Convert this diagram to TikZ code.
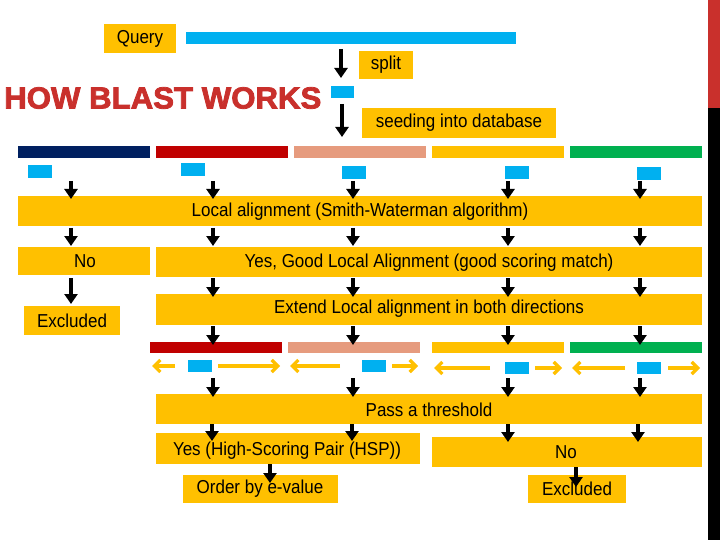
\documentclass[tikz,border=0pt]{standalone}
\usepackage{fontspec}
\setmainfont{Liberation Sans}
\newfontfamily\heavy[BoldFeatures={FakeBold=2.5}]{Liberation Sans}
\usetikzlibrary{arrows.meta}
\definecolor{org}{HTML}{FFC000}
\definecolor{cy}{HTML}{00B0F0}
\definecolor{nv}{HTML}{002060}
\definecolor{rd}{HTML}{C00000}
\definecolor{sl}{HTML}{E69B7E}
\definecolor{gr}{HTML}{00B050}
\definecolor{tred}{HTML}{C9302C}
\begin{document}
\begin{tikzpicture}[x=1pt,y=-1pt,
  arr/.style={line width=3.4pt,-{Triangle[width=13pt,length=10pt]}},
  yarr/.style={draw=org,line width=3.2pt,-{Straight Barb[width=12pt,length=6pt,line width=3.2pt]}},
  box/.style={fill=org},
  txt/.style={font=\fontsize{17}{19}\selectfont,inner sep=0pt,yscale=1.1}]
\useasboundingbox (0,0) rectangle (720,540);
\fill[white] (0,0) rectangle (720,540);
\fill[tred] (708,0) rectangle (720,108);
\fill[black] (708,108) rectangle (720,540);
% boxes
\fill[box] (104,24) rectangle (176,53); \node[txt] (q) at (140,39) {Query};
\fill[cy] (186,32) rectangle (516,44);
\fill[box] (359,51) rectangle (413,79); \node[txt] (sp) at (386,65) {split};
\node[font=\heavy\bfseries\fontsize{30}{32}\selectfont,text=tred,inner sep=0pt,anchor=west,xscale=1.04,yscale=1.02] (t) at (4,98) {HOW BLAST WORKS};
\fill[cy] (331,86) rectangle (354,98);
\fill[box] (362,108) rectangle (556,138); \node[txt] (sd) at (459,123) {seeding into database};
\fill[nv] (18,146) rectangle (150,158);
\fill[rd] (156,146) rectangle (288,158);
\fill[sl] (294,146) rectangle (426,158);
\fill[org] (432,146) rectangle (564,158);
\fill[gr] (570,146) rectangle (702,158);
\fill[cy] (28,165) rectangle (52,178);
\fill[cy] (181,163) rectangle (205,176);
\fill[cy] (342,166) rectangle (366,179);
\fill[cy] (505,166) rectangle (529,179);
\fill[cy] (637,167) rectangle (661,180);
\fill[box] (18,196) rectangle (702,226);
\node[txt] (la) at (360,212) {Local alignment (Smith-Waterman algorithm)};
\fill[box] (18,247) rectangle (150,275); \node[txt] (no1) at (85,261) {No};
\fill[box] (156,247) rectangle (702,277); \node[txt] (yes) at (429,263) {Yes, Good Local Alignment (good scoring match)};
\fill[box] (24,306) rectangle (120,335); \node[txt] (ex1) at (72,321) {Excluded};
\fill[box] (156,294) rectangle (702,325); \node[txt] (ext) at (429,309) {Extend Local alignment in both directions};
\fill[rd] (150,342) rectangle (282,353);
\fill[sl] (288,342) rectangle (420,353);
\fill[org] (432,342) rectangle (564,353);
\fill[gr] (570,342) rectangle (702,353);
\fill[cy] (188,360) rectangle (212,372);
\fill[cy] (362,360) rectangle (386,372);
\fill[cy] (505,362) rectangle (529,374);
\fill[cy] (637,362) rectangle (661,374);
\fill[box] (156,394) rectangle (702,424); \node[txt] (pt) at (429,410) {Pass a threshold};
\fill[box] (156,433) rectangle (420,464); \node[txt] (hsp) at (287,451) {Yes (High-Scoring Pair (HSP))};
\fill[box] (432,437) rectangle (702,467); \node[txt] (no2) at (566,452) {No};
\fill[box] (183,475) rectangle (338,503); \node[txt] (ev) at (260,489) {Order by e-value};
\fill[box] (528,475) rectangle (626,503); \node[txt] (ex2) at (577,489) {Excluded};
% arrows
\draw[arr] (341,49) -- (341,78);
\draw[arr] (342,104) -- (342,137);
\foreach \x in {71,213,353,508,640}{\draw[arr] (\x,181) -- (\x,199);}
\foreach \x in {71,213,353,508,640}{\draw[arr] (\x,228) -- (\x,246);}
\draw[arr] (71,278) -- (71,304);
\foreach \x in {213,353,508,640}{\draw[arr] (\x,278) -- (\x,297);}
\foreach \x in {213,353,508,640}{\draw[arr] (\x,326) -- (\x,345);}
\draw[yarr] (175,366) -- (152,366);
\draw[yarr] (218,366) -- (280,366);
\draw[yarr] (340,366) -- (290,366);
\draw[yarr] (392,366) -- (418,366);
\draw[yarr] (490,368) -- (434,368);
\draw[yarr] (535,368) -- (562,368);
\draw[yarr] (625,368) -- (572,368);
\draw[yarr] (668,368) -- (700,368);
\foreach \x in {213,353,508,640}{\draw[arr] (\x,378) -- (\x,397);}
\foreach \x in {212,352}{\draw[arr] (\x,424) -- (\x,441);}
\foreach \x in {508,638}{\draw[arr] (\x,424) -- (\x,442);}
\draw[arr] (270,464) -- (270,483);
\draw[arr] (576,467) -- (576,487);
\end{tikzpicture}
\end{document}
